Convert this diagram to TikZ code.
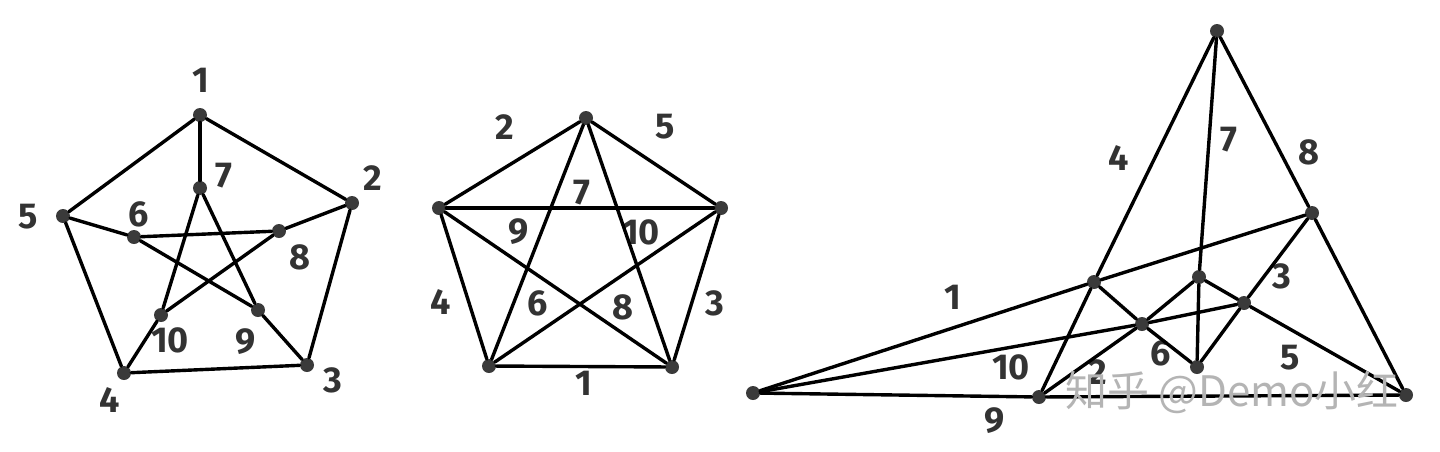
\documentclass[tikz,border=0pt]{standalone}
\usepackage{fontspec}
\newfontfamily\handfont{Fira Sans}
\newfontfamily\cjkfont{Noto Sans CJK SC}
\newcommand\numfont{\handfont\bfseries\fontsize{18}{20}\selectfont}
\definecolor{dotgray}{HTML}{3A3A3A}
\definecolor{numgray}{HTML}{333333}
\definecolor{wmgray}{HTML}{B4B4B4}
\begin{document}
\begin{tikzpicture}[x=0.5pt,y=-0.5pt]
      \tikzstyle{dot} = [circle, fill=dotgray, inner sep=0pt, minimum size=7pt]
      \tikzstyle{num} = [text=numgray, font=\numfont, inner sep=0pt]
      \tikzstyle{every edge} = [draw, line width=1.7pt, line cap=round]
      \useasboundingbox (0,0) rectangle (1440,451);

      % Petersen graph
      \node[dot](p1) at (200,115){};
      \node[dot](p2) at (352,203){};
      \node[dot](p3) at (307,365){};
      \node[dot](p4) at (124,373){};
      \node[dot](p5) at (63,216){};
      \node[dot](p6) at (134,237){};
      \node[dot](p7) at (200,188){};
      \node[dot](p8) at (279,231){};
      \node[dot](p9) at (258,310){};
      \node[dot](p10) at (161,315){};

      \node[num] at (201,80){1};
      \node[num] at (373,178){2};
      \node[num] at (333,380){3};
      \node[num] at (110,400){4};
      \node[num] at (28,217){5};
      \node[num] at (139,214){6};
      \node[num] at (224,176){7};
      \node[num] at (300,257){8};
      \node[num] at (246,342){9};
      \node[num] at (170,340){10};

      \path (p1) edge (p2);
      \path (p2) edge (p3);
      \path (p3) edge (p4);
      \path (p4) edge (p5);
      \path (p5) edge (p1);
      \path (p1) edge (p7);
      \path (p2) edge (p8);
      \path (p3) edge (p9);
      \path (p4) edge (p10);
      \path (p5) edge (p6);
      \path (p7) edge (p10);
      \path (p7) edge (p9);
      \path (p6) edge (p8);
      \path (p6) edge (p9);
      \path (p8) edge (p10);

      % complete graph K5
      \node[dot](kt) at (586,118){};
      \node[dot](kl) at (439,208){};
      \node[dot](kr) at (721,208){};
      \node[dot](kbl) at (489,366){};
      \node[dot](kbr) at (672,367){};

      \node[num] at (584,383){1};
      \node[num] at (505,127){2};
      \node[num] at (715,303){3};
      \node[num] at (441,302){4};
      \node[num] at (665,127){5};
      \node[num] at (538,303){6};
      \node[num] at (582,193){7};
      \node[num] at (623,307){8};
      \node[num] at (519,232){9};
      \node[num] at (641,232){10};

      \path (kt) edge (kl);
      \path (kt) edge (kr);
      \path (kt) edge (kbl);
      \path (kt) edge (kbr);
      \path (kl) edge (kr);
      \path (kl) edge (kbl);
      \path (kl) edge (kbr);
      \path (kr) edge (kbl);
      \path (kr) edge (kbr);
      \path (kbl) edge (kbr);

      % ten points, ten lines
      \node[dot](dt) at (1217,31){};
      \node[dot](dr) at (1312,213){};
      \node[dot](da) at (1094,282){};
      \node[dot](dm) at (1199,277){};
      \node[dot](dq) at (1244,303){};
      \node[dot](dc) at (1142,324){};
      \node[dot](dp) at (1197,367){};
      \node[dot](dl) at (753,393){};
      \node[dot](db) at (1039,397){};
      \node[dot](de) at (1406,395){};

      \node[num] at (953,297){1};
      \node[num] at (1098,372){2};
      \node[num] at (1282,276){3};
      \node[num] at (1119,158){4};
      \node[num] at (1290,358){5};
      \node[num] at (1161,353){6};
      \node[num] at (1229,140){7};
      \node[num] at (1309,152){8};
      \node[num] at (995,421){9};
      \node[num] at (1011,367){10};

      \path (dt) edge (da) (da) edge (db);
      \path (dt) edge (dm) (dm) edge (dp);
      \path (dt) edge (dr) (dr) edge (de);
      \path (dl) edge (da) (da) edge (dr);
      \path (dl) edge (dc) (dc) edge (dq);
      \path (dl) edge (db) (db) edge (de);
      \path (da) edge (dc) (dc) edge (dp);
      \path (db) edge (dc) (dc) edge (dm);
      \path (dm) edge (dq) (dq) edge (de);
      \path (dr) edge (dq) (dq) edge (dp);

      \node[text=wmgray, font=\cjkfont\fontsize{21}{24}\selectfont, inner sep=0pt](wm) at (1232,392){知乎 @Demo小红};
\end{tikzpicture}
\end{document}
